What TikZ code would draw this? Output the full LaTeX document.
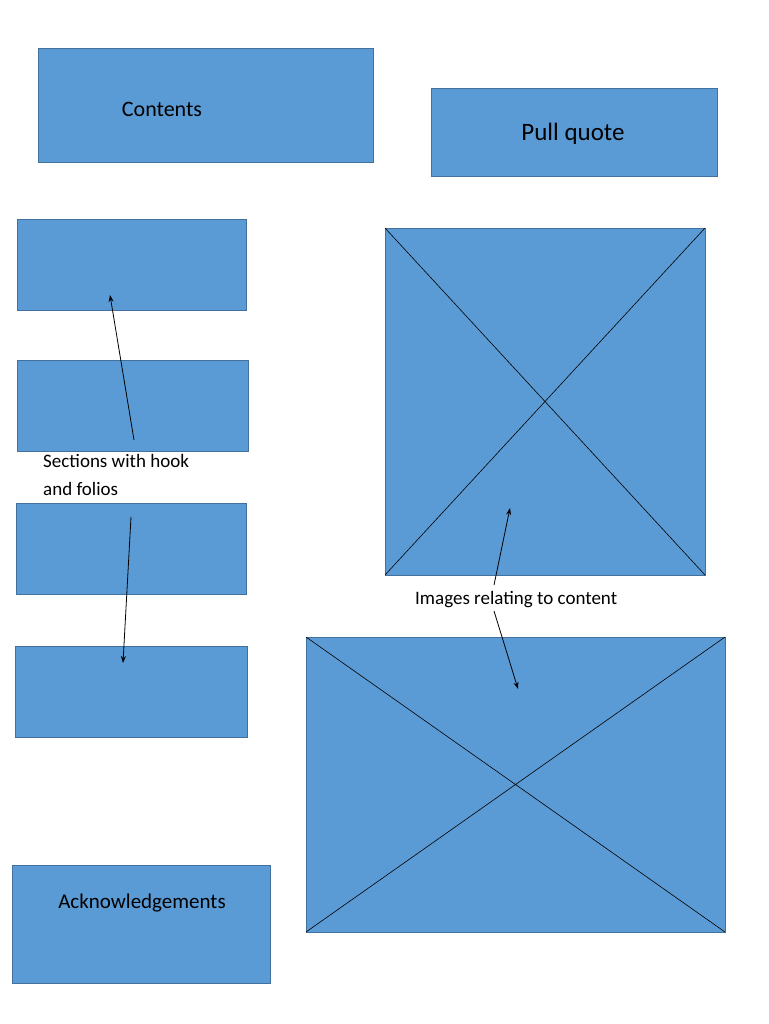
\documentclass[tikz,border=0pt]{standalone}
\usepackage{fontspec}
\setmainfont{Carlito}
\usetikzlibrary{arrows.meta}
\definecolor{boxfill}{HTML}{5B9BD5}
\definecolor{boxline}{HTML}{41719C}
\begin{document}
\begin{tikzpicture}[x=1pt,y=-1pt,
  blk/.style={fill=boxfill,draw=boxline,line width=0.8pt},
  arr/.style={-{Stealth[length=7pt,width=5pt]},line width=0.8pt}]
\useasboundingbox (0,0) rectangle (768,1024);
\draw[blk] (38,48) rectangle (373,162);
\node[font=\fontsize{22}{26}\selectfont] (contents) at (162,109) {Contents};
\draw[blk] (431,88) rectangle (717,176);
\node[font=\fontsize{25}{30}\selectfont] (pull) at (573,134) {Pull quote};
\draw[blk] (17,219) rectangle (246,310);
\draw[blk] (17,360) rectangle (248,451);
\draw[blk] (16,503) rectangle (246,594);
\draw[blk] (15,646) rectangle (247,737);
\draw[blk] (12,865) rectangle (270,983);
\node[font=\fontsize{21}{25}\selectfont] (ack) at (142,903) {Acknowledgements};
\draw[blk] (385,228) rectangle (705,575);
\draw[line width=0.6pt] (385,228) -- (705,575) (705,228) -- (385,575);
\draw[blk] (306,637) rectangle (725,932);
\draw[line width=0.6pt] (306,637) -- (725,932) (725,637) -- (306,932);
\node[font=\fontsize{19}{28}\selectfont,anchor=north west,align=left,inner sep=0pt] (sec) at (43,454) {Sections with hook\\and folios};
\node[font=\fontsize{19}{23}\selectfont,anchor=west,inner sep=0pt] (img) at (415,600) {Images relating to content};
\coordinate (a1s) at (134,440); \coordinate (a1e) at (110,295);
\coordinate (a2s) at (131,517); \coordinate (a2e) at (123,663);
\coordinate (a3s) at (494,585); \coordinate (a3e) at (510,508);
\coordinate (a4s) at (494,611); \coordinate (a4e) at (518,689);
\draw[arr] (a1s) -- (a1e);
\draw[arr] (a2s) -- (a2e);
\draw[arr] (a3s) -- (a3e);
\draw[arr] (a4s) -- (a4e);
\end{tikzpicture}
\end{document}
